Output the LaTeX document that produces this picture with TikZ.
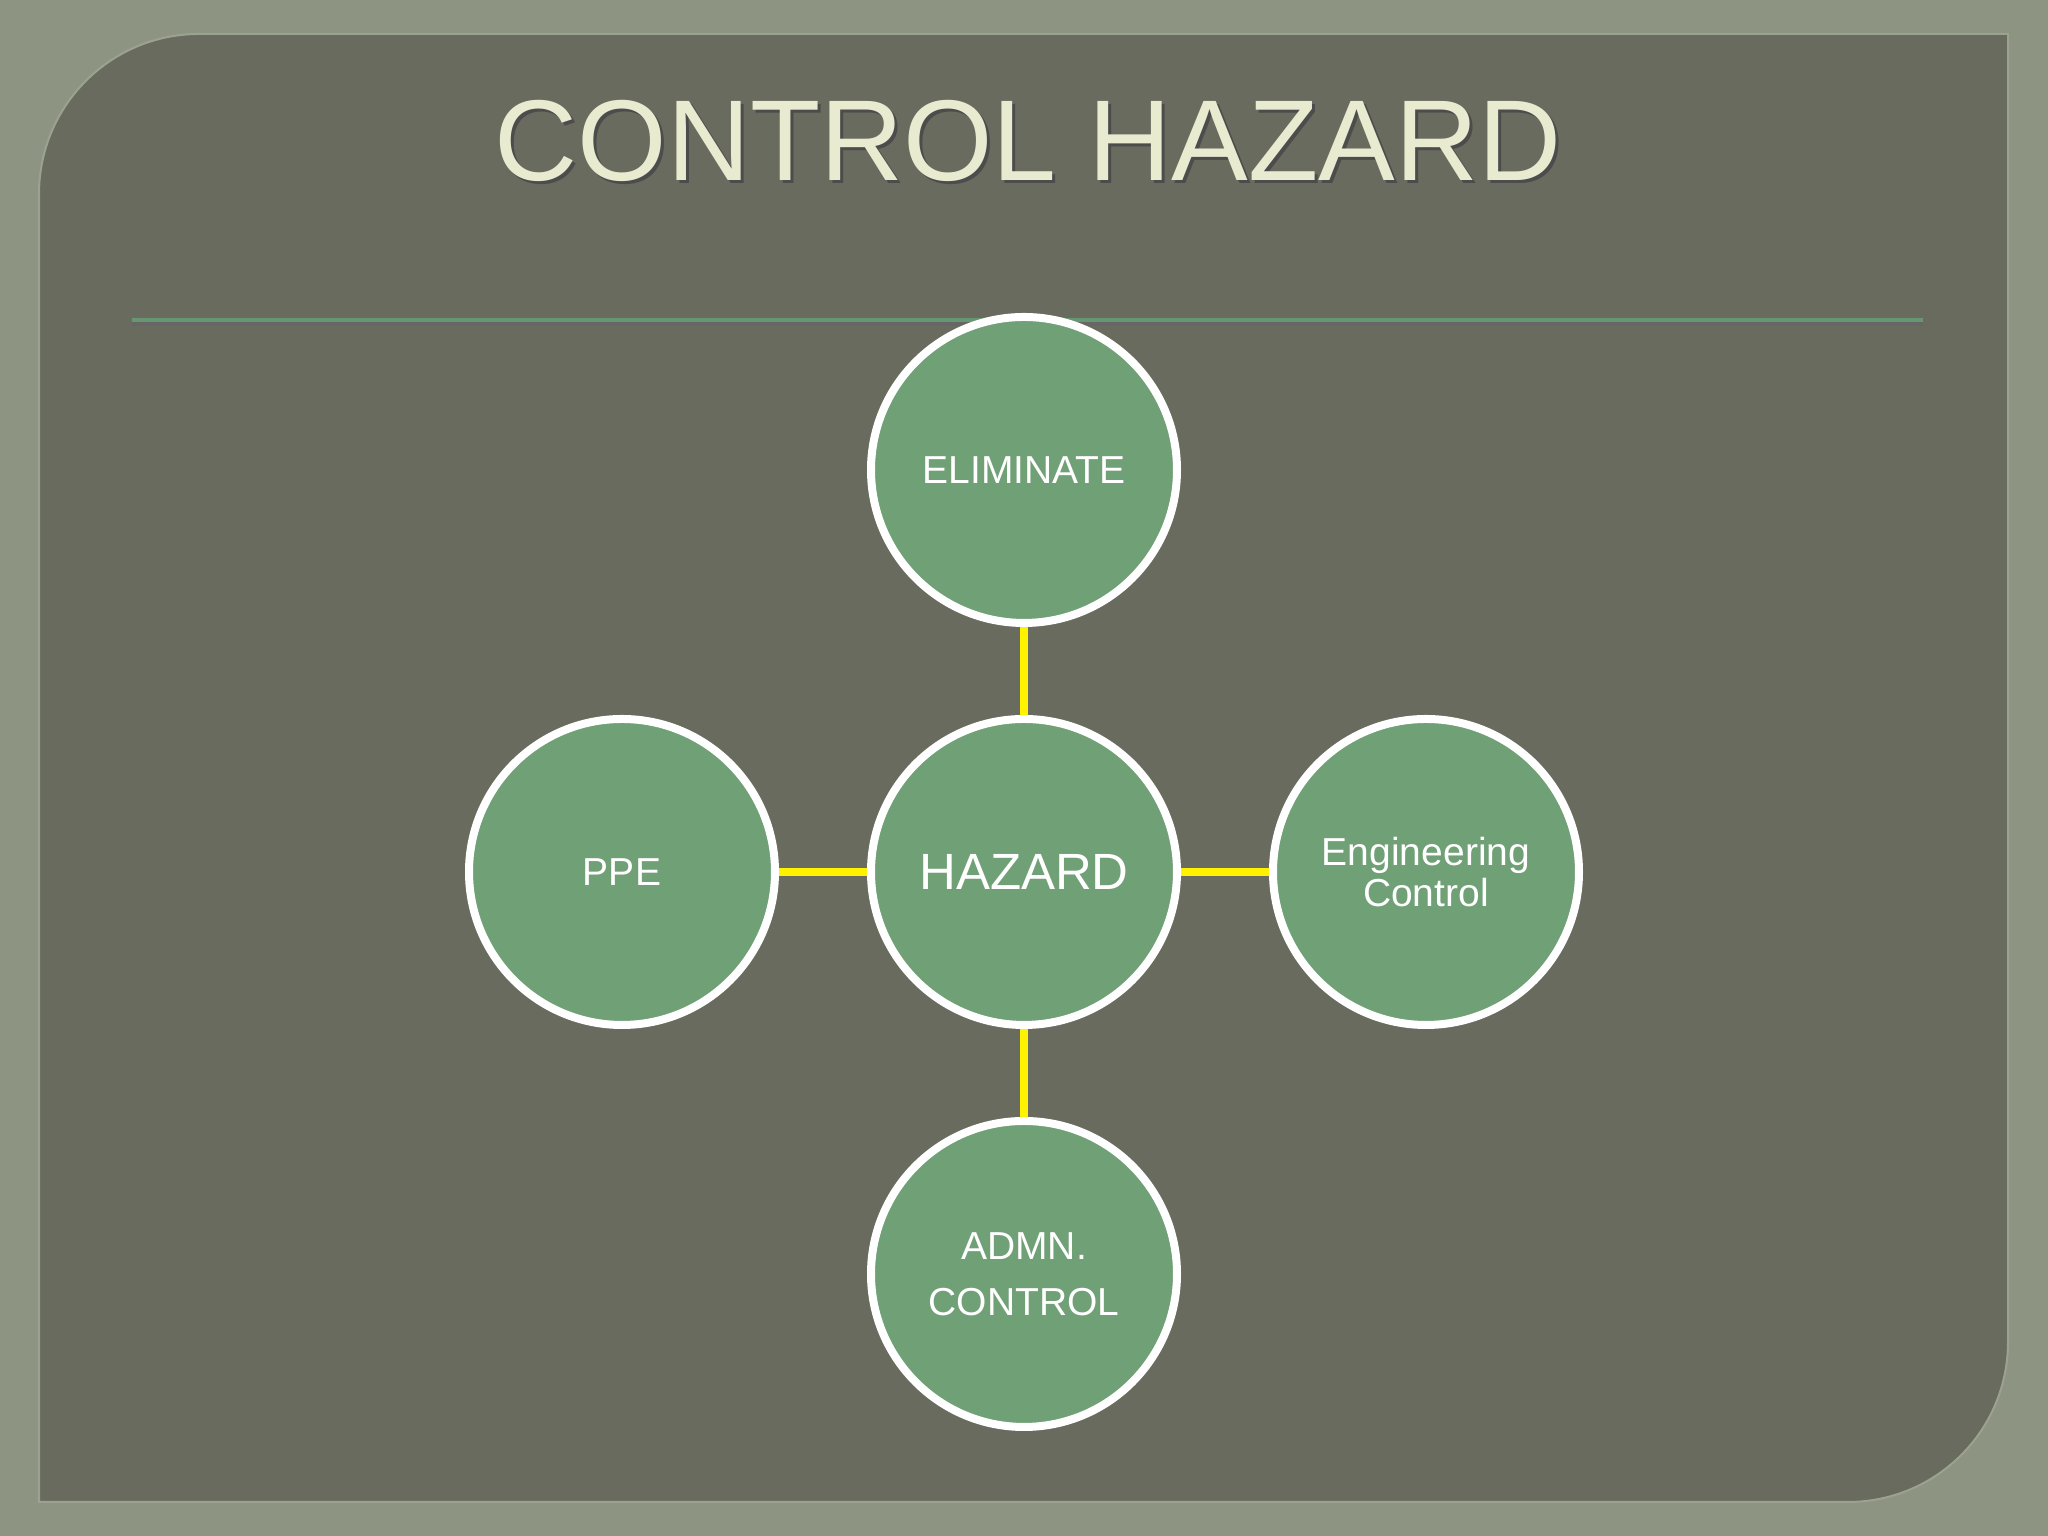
\documentclass[tikz,border=0pt]{standalone}
\usepackage{fontspec}
\setmainfont{Liberation Sans}
\definecolor{outerbg}{RGB}{141,148,130}
\definecolor{panelbg}{RGB}{104,107,94}
\definecolor{panelrim}{RGB}{156,162,144}
\definecolor{leaf}{RGB}{112,160,118}
\definecolor{cream}{RGB}{233,235,208}
\definecolor{rulegreen}{RGB}{104,150,112}

\begin{document}
\begin{tikzpicture}[
  bubble/.style={circle, draw=white, line width=0.08cm, fill=leaf, minimum size=3.06cm,
    inner sep=0pt, text=white, align=center, font=\fontsize{11.1}{15.9}\selectfont},
  link/.style={draw=yellow, line width=0.08cm}]
\useasboundingbox (0,0) rectangle (20.48,15.36);
\fill[outerbg] (0,0) rectangle (20.48,15.36);
\filldraw[fill=panelbg, draw=panelrim, line width=0.02cm] (0.39,0.34) -- (0.39,13.42) arc(180:90:1.6)
  -- (20.08,15.02) -- (20.08,1.94) arc(0:-90:1.6) -- cycle;

% title with a dark shadow behind it
\node (titleshadow) [text=black!70, font=\fontsize{32.7}{39}\selectfont] at (10.31,13.92) {CONTROL HAZARD};
\node (title) [text=cream, font=\fontsize{32.7}{39}\selectfont] at (10.28,13.95) {CONTROL HAZARD};
\draw[black!60, line width=0.04cm] (1.32,12.12) -- (19.23,12.12);
\draw[rulegreen, line width=0.04cm] (1.32,12.16) -- (19.23,12.16);

\node (haz)  [bubble, font=\fontsize{14.5}{17}\selectfont] at (10.24,6.64) {HAZARD};
\node (elim) [bubble] at (10.24,10.66) {ELIMINATE};
\node (adm)  [bubble] at (10.24,2.62) {ADMN.\\CONTROL};
\node (ppe)  [bubble] at (6.22,6.64) {PPE};
\node (eng)  [bubble, font=\fontsize{11.1}{11.7}\selectfont] at (14.26,6.64) {Engineering\\Control};

\draw[link] (haz) -- (elim);
\draw[link] (haz) -- (adm);
\draw[link] (haz) -- (ppe);
\draw[link] (haz) -- (eng);
\end{tikzpicture}
\end{document}
